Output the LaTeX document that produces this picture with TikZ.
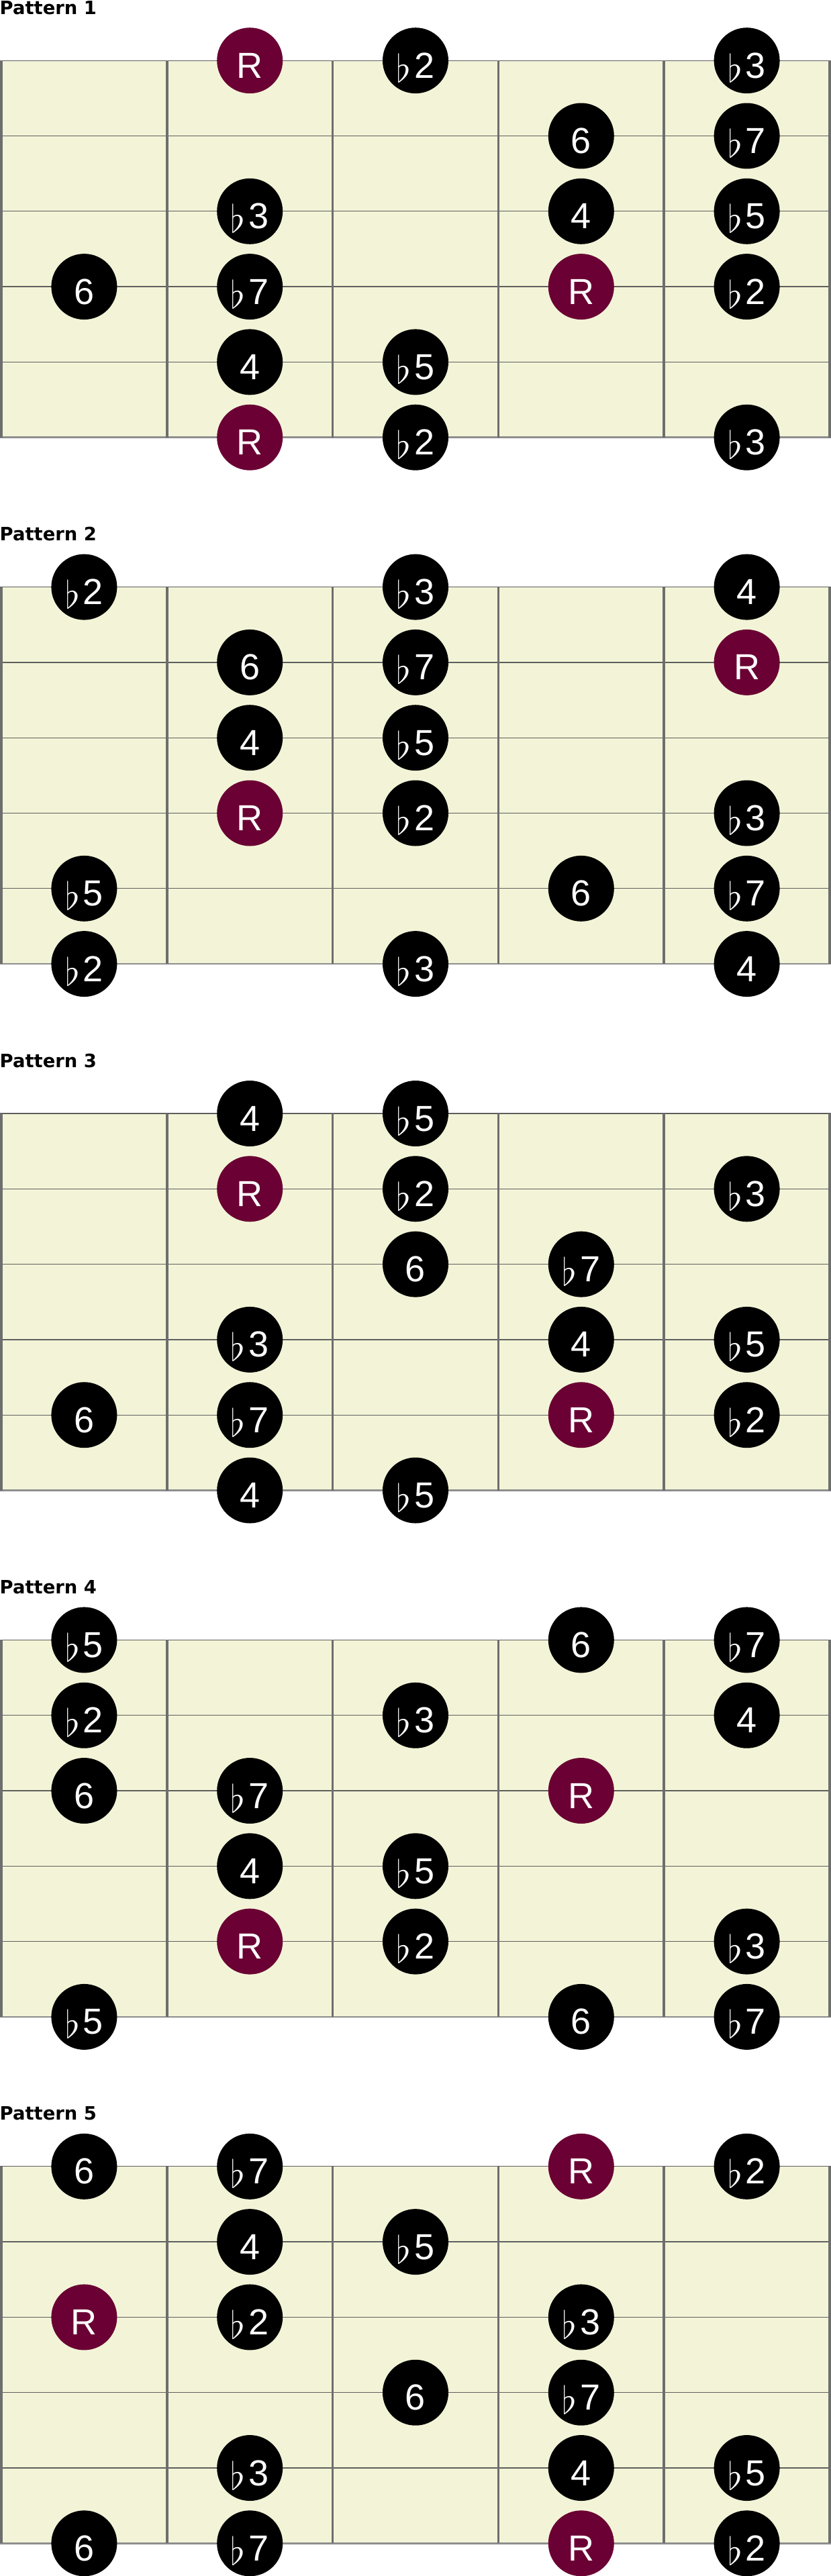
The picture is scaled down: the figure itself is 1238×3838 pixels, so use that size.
\RequirePackage{fix-cm}
\documentclass[tikz,border=0pt]{standalone}
\usepackage{graphicx}
\usepackage{fontspec}
\setmainfont{Liberation Sans}
\newfontfamily\titlefont{DejaVu Sans}
\protected\def\fl{\raisebox{-6pt}{\fontsize{57}{57}\selectfont$\flat$}\kern 5pt\relax}
\definecolor{board}{HTML}{F3F4D7}
\definecolor{fretc}{HTML}{6E6E6E}
\definecolor{stringc}{HTML}{5E5E5E}
\definecolor{rootc}{HTML}{6A0033}
\tikzset{
  boardfill/.style={fill=board},
  fretline/.style={draw=fretc, line width=3.5pt},
  stringline/.style={draw=stringc, line width=1.3pt},
  lastline/.style={draw=stringc!70, line width=2.5pt},
  note/.style={circle, fill=black, minimum size=98pt, inner sep=0pt,
    text=white, font=\fontsize{54}{54}\selectfont, text height=52pt, text depth=0pt},
  root/.style={note, fill=rootc},
  ptitle/.style={anchor=base west, inner sep=0pt, font=\titlefont\bfseries\fontsize{27.4}{30}\selectfont}
}
\begin{document}
\begin{tikzpicture}[x=1pt, y=-1pt]
\useasboundingbox (0,0) rectangle (1238,3838);
\foreach \p/\q/\notes in {
 0/1/{1/0/R/root, 2/0/\fl2/note, 4/0/\fl3/note,
      3/1/6/note, 4/1/\fl7/note,
      1/2/\fl3/note, 3/2/4/note, 4/2/\fl5/note,
      0/3/6/note, 1/3/\fl7/note, 3/3/R/root, 4/3/\fl2/note,
      1/4/4/note, 2/4/\fl5/note,
      1/5/R/root, 2/5/\fl2/note, 4/5/\fl3/note},
 1/2/{0/0/\fl2/note, 2/0/\fl3/note, 4/0/4/note,
      1/1/6/note, 2/1/\fl7/note, 4/1/R/root,
      1/2/4/note, 2/2/\fl5/note,
      1/3/R/root, 2/3/\fl2/note, 4/3/\fl3/note,
      0/4/\fl5/note, 3/4/6/note, 4/4/\fl7/note,
      0/5/\fl2/note, 2/5/\fl3/note, 4/5/4/note},
 2/3/{1/0/4/note, 2/0/\fl5/note,
      1/1/R/root, 2/1/\fl2/note, 4/1/\fl3/note,
      2/2/6/note, 3/2/\fl7/note,
      1/3/\fl3/note, 3/3/4/note, 4/3/\fl5/note,
      0/4/6/note, 1/4/\fl7/note, 3/4/R/root, 4/4/\fl2/note,
      1/5/4/note, 2/5/\fl5/note},
 3/4/{0/0/\fl5/note, 3/0/6/note, 4/0/\fl7/note,
      0/1/\fl2/note, 2/1/\fl3/note, 4/1/4/note,
      0/2/6/note, 1/2/\fl7/note, 3/2/R/root,
      1/3/4/note, 2/3/\fl5/note,
      1/4/R/root, 2/4/\fl2/note, 4/4/\fl3/note,
      0/5/\fl5/note, 3/5/6/note, 4/5/\fl7/note},
 4/5/{0/0/6/note, 1/0/\fl7/note, 3/0/R/root, 4/0/\fl2/note,
      1/1/4/note, 2/1/\fl5/note,
      0/2/R/root, 1/2/\fl2/note, 3/2/\fl3/note,
      2/3/6/note, 3/3/\fl7/note,
      1/4/\fl3/note, 3/4/4/note, 4/4/\fl5/note,
      0/5/6/note, 1/5/\fl7/note, 3/5/R/root, 4/5/\fl2/note}}
{
  \pgfmathsetmacro\top{90.2+784.4*\p}
  \pgfmathsetmacro\bot{\top+561.5}
  \fill[boardfill] (2,\top) rectangle (1236,\bot);
  \foreach \r in {0,...,4}{
    \draw[stringline] (0,{\top+112.3*\r}) -- (1238,{\top+112.3*\r});
  }
  \draw[lastline] (0,\bot) -- (1238,\bot);
  \foreach \f in {0,...,5}{
    \draw[fretline] ({2+246.8*\f},\top) -- ({2+246.8*\f},\bot);
  }
  \node[ptitle] (title\q) at (-0.5,{\top-69}) {Pattern \q};
  \foreach \c/\r/\t/\s in \notes {
    \node[\s] (n\q-\r-\c) at ({125.4+246.8*\c},{\top+112.3*\r}) {\t};
  }
}
\end{tikzpicture}
\end{document}
